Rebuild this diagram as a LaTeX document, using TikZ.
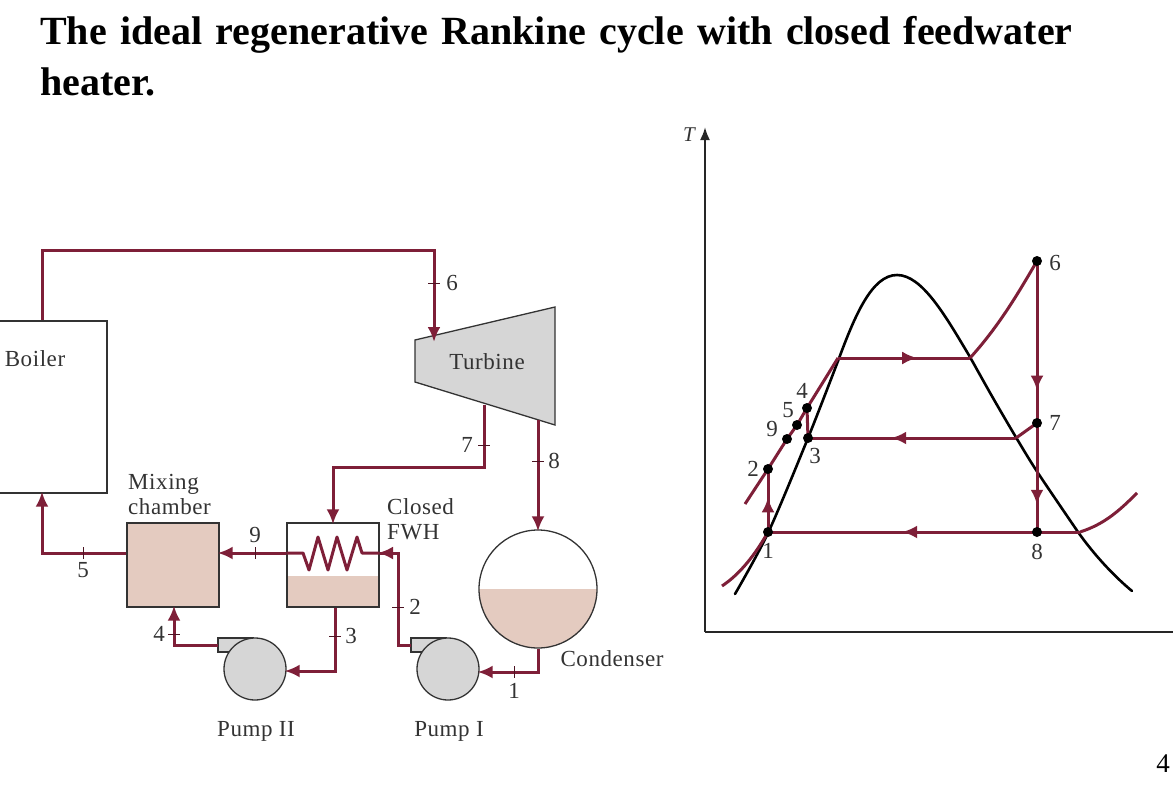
\documentclass[tikz,border=0pt]{standalone}
\usepackage{fontspec}
\setmainfont{Liberation Serif}
\newfontfamily\lblfont[LetterSpace=2.5]{Liberation Serif}
\usetikzlibrary{arrows.meta,decorations.markings}
\definecolor{pipered}{HTML}{7E1F38}
\definecolor{liquid}{HTML}{E4CBC0}
\definecolor{metal}{HTML}{D6D6D6}
\tikzset{
    pipe/.style={pipered, line width=3pt, line join=miter},
    flow/.style={pipe, -{Latex[length=15pt,width=13pt]}, shorten >=-2pt},
    midflow/.style={pipe, postaction={decorate}, decoration={markings, mark=at position #1 with {\arrow{Latex[length=15pt,width=13pt]}}}},
    tick/.style={pipered!60!black, line width=0.8pt},
    unit/.style={draw=black!80, line width=1.3pt},
    lbl/.style={font=\lblfont\fontsize{23}{25}\selectfont, text=black!80, inner sep=0pt},
    dot/.style={circle, fill=black, inner sep=0pt, minimum size=10pt},
    dome/.style={black, line width=2.6pt, line cap=round},
}
\begin{document}
\begin{tikzpicture}[x=1pt, y=-1pt]
    \useasboundingbox (0,0) rectangle (1173,785);

    % Title and page number
    \node[font=\fontsize{40}{51}\selectfont\bfseries, anchor=north west, inner sep=0pt, align=left, text width=1130pt] (title) at (40,16) {The ideal regenerative Rankine cycle with closed feedwater\\heater.};
    \node[font=\fontsize{27}{30}\selectfont, inner sep=0pt] (pagenum) at (1163,764) {4};

    % Equipment
    \node[unit, fill=white, minimum width=114pt, minimum height=172pt, inner sep=0pt] (boiler) at (50,407) {};
    \node[lbl] (boilerlbl) at (35,359) {Boiler};
    \coordinate (turbtl) at (415,340);
    \coordinate (turbtr) at (555,307);
    \coordinate (turbbr) at (555,425);
    \coordinate (turbbl) at (415,382);
    \coordinate (turbin) at (434,340);
    \coordinate (turbA) at (484,405);
    \coordinate (turbB) at (538,420);
    \fill[metal] (turbtl) -- (turbtr) -- (turbbr) -- (turbbl) -- cycle;
    \draw[unit] (turbtl) -- (turbtr) -- (turbbr) -- (turbbl) -- cycle;
    \node[lbl] (turblbl) at (487,362) {Turbine};

    % Mixing chamber
    \node[unit, fill=liquid, minimum width=92pt, minimum height=84pt, inner sep=0pt] (mixer) at (173,565) {};
    \node[lbl, align=left, anchor=north west] (mixerlbl) at (128,474) {Mixing\\chamber};

    % Closed heater
    \fill[liquid] (287,576) rectangle (379,607);
    \node[unit, minimum width=92pt, minimum height=84pt, inner sep=0pt] (fwh) at (333,565) {};
    \node[lbl, align=left, anchor=north west] (fwhlbl) at (387,498) {Closed\\FWH};

    % Condenser
    \begin{scope}
        \clip (478,589) rectangle (598,650);
        \fill[liquid] (538,589) circle (59);
    \end{scope}
    \node[unit, circle, minimum size=118pt, inner sep=0pt] (cond) at (538,589) {};
    \node[lbl] (condlbl) at (612,659) {Condenser};

    % Pumps
    \foreach \name/\cx/\txt in {pumpB/255/Pump II, pumpA/448/Pump I} {
        \draw[unit, fill=metal] (\cx-37,638) rectangle (\cx-2,652);
        \coordinate (\name noz) at (\cx-37,645);
        \node[unit, circle, fill=metal, minimum size=62pt, inner sep=0pt] (\name) at (\cx,669) {};
        \node[lbl] (\name lbl) at (\cx+1,731) {\txt};
    }

    % Piping
    \draw[flow] (boiler.north -| 42,0) -- (42,250) -- (434,250) -- (turbin);
    \draw[flow] (turbA) -- (484,467) -- (333,467) -- (fwh.north);
    \draw[flow] (turbB) -- (cond.north);
    \draw[flow] (cond.south) -- (538,672) -- (pumpA.east |- 0,672);
    \draw[flow] (fwh.south -| 335,0) -- (335,671) -- (pumpB.east |- 0,671);
    \draw[flow] (pumpBnoz) -- (174,645) -- (mixer.south -| 174,0);
    \draw[flow] (mixer.west |- 0,553) -- (42,553) -- (boiler.south -| 42,0);
    \draw[pipe] (pumpAnoz) -- (398,645) -- (398,553) -- (fwh.east |- 0,553);
    \draw[flow] (398,553) -- (380,553);
    \draw[pipe, line join=round] (fwh.east |- 0,553) -- (362,553) -- (357,537) -- (347,570) -- (337,537) -- (328,570) -- (318,537) -- (309,570) -- (303,553) -- (fwh.west |- 0,553);
    \draw[flow] (fwh.west |- 0,553) -- (mixer.east |- 0,553);

    % State ticks and numbers
    \foreach \ta/\tb/\tx/\ty/\num in {428/440/452/283/6, 478/490/467/445/7, 532/544/554/461/8, 392/404/415/607/2, 329/341/351/636/3, 168/180/159/634/4} {
        \path (\ta,\ty) coordinate (ta) (\tb,\ty) coordinate (tb);
        \draw[tick] (ta) -- (tb);
        \node[lbl] (s\num) at (\tx,\ty) {\num};
    }
    \foreach \tx/\ya/\yb/\ly/\num in {255/547/559/535/9, 83/547/559/570/5, 514/666/678/691/1} {
        \path (\tx,\ya) coordinate (ta) (\tx,\yb) coordinate (tb);
        \draw[tick] (ta) -- (tb);
        \node[lbl] (s\num) at (\tx,\ly) {\num};
    }

    % T-s diagram
    \coordinate (origin) at (705,632);
    \coordinate (Ttip) at (705,127);
    \coordinate (send) at (1173,632);
    \node[font=\fontsize{21}{24}\selectfont\itshape, text=black!80, inner sep=0pt] (Tlbl) at (689,135) {T};
    \draw[line width=2.2pt, black!85, -{Latex[length=13pt,width=10pt]}] (origin) -- (Ttip);
    \draw[line width=2.2pt, black!85] (origin) -- (send);
    \draw[dome] plot[smooth] coordinates {(735,594) (768,533) (808,438) (838,361)};
    \draw[dome] (838,361) .. controls (855,315) and (872,275) .. (897,275) .. controls (922,275) and (945,315) .. (970,357);
    \draw[dome] plot[smooth] coordinates {(970,357) (993,398) (1017,439) (1038,473) (1078,532)};
    \draw[dome] (1078,532) .. controls (1095,556) and (1115,577) .. (1132,591);

    \coordinate (p1) at (768,532);
    \coordinate (p2) at (768,469);
    \coordinate (p3) at (808,438);
    \coordinate (p4) at (807,408);
    \coordinate (p5) at (797,425);
    \coordinate (p9) at (787,439);
    \coordinate (p6) at (1037,261);
    \coordinate (p7) at (1037,423);
    \coordinate (p8) at (1037,532);
    \coordinate (sf) at (838,358);
    \coordinate (sg) at (970,358);
    \coordinate (wet7) at (1016,438);
    \coordinate (sat8) at (1080,532);
    \coordinate (lowA) at (722,586);
    \coordinate (lowB) at (745,504);
    \coordinate (highA) at (1137,493);

    \draw[pipe] (lowA) .. controls (740,574) and (755,555) .. (p1);
    \draw[pipe] (lowB) -- (p2) -- (p9) -- (p5) -- (p4) -- (sf);
    \draw[pipe] (sg) .. controls (1000,325) and (1020,290) .. (p6);
    \draw[pipe] (sat8) .. controls (1105,524) and (1120,510) .. (highA);
    \draw[pipe] (wet7) -- (p7);
    \draw[pipe] (p3) -- (p4);
    \draw[midflow=0.55] (p1) -- (p2);
    \draw[midflow=0.6] (sf) -- (sg);
    \draw[midflow=0.6] (wet7) -- (p3);
    \draw[midflow=0.57] (sat8) -- (p1);
    \draw[midflow=0.8] (p6) -- (p7);
    \draw[midflow=0.75] (p7) -- (p8);

    \foreach \p in {p1,p2,p3,p4,p5,p6,p7,p8,p9}
        \node[dot] (\p dot) at (\p) {};

    \foreach \p/\ox/\oy/\num in {p1/0/19/1, p2/-15/0/2, p3/7/18/3, p4/-5/-17/4, p5/-9/-15/5, p9/-15/-10/9, p6/18/2/6, p7/18/0/7, p8/0/20/8} {
        \path (\p) ++(\ox,\oy) node[lbl] (t\num) {\num};
    }
\end{tikzpicture}
\end{document}
